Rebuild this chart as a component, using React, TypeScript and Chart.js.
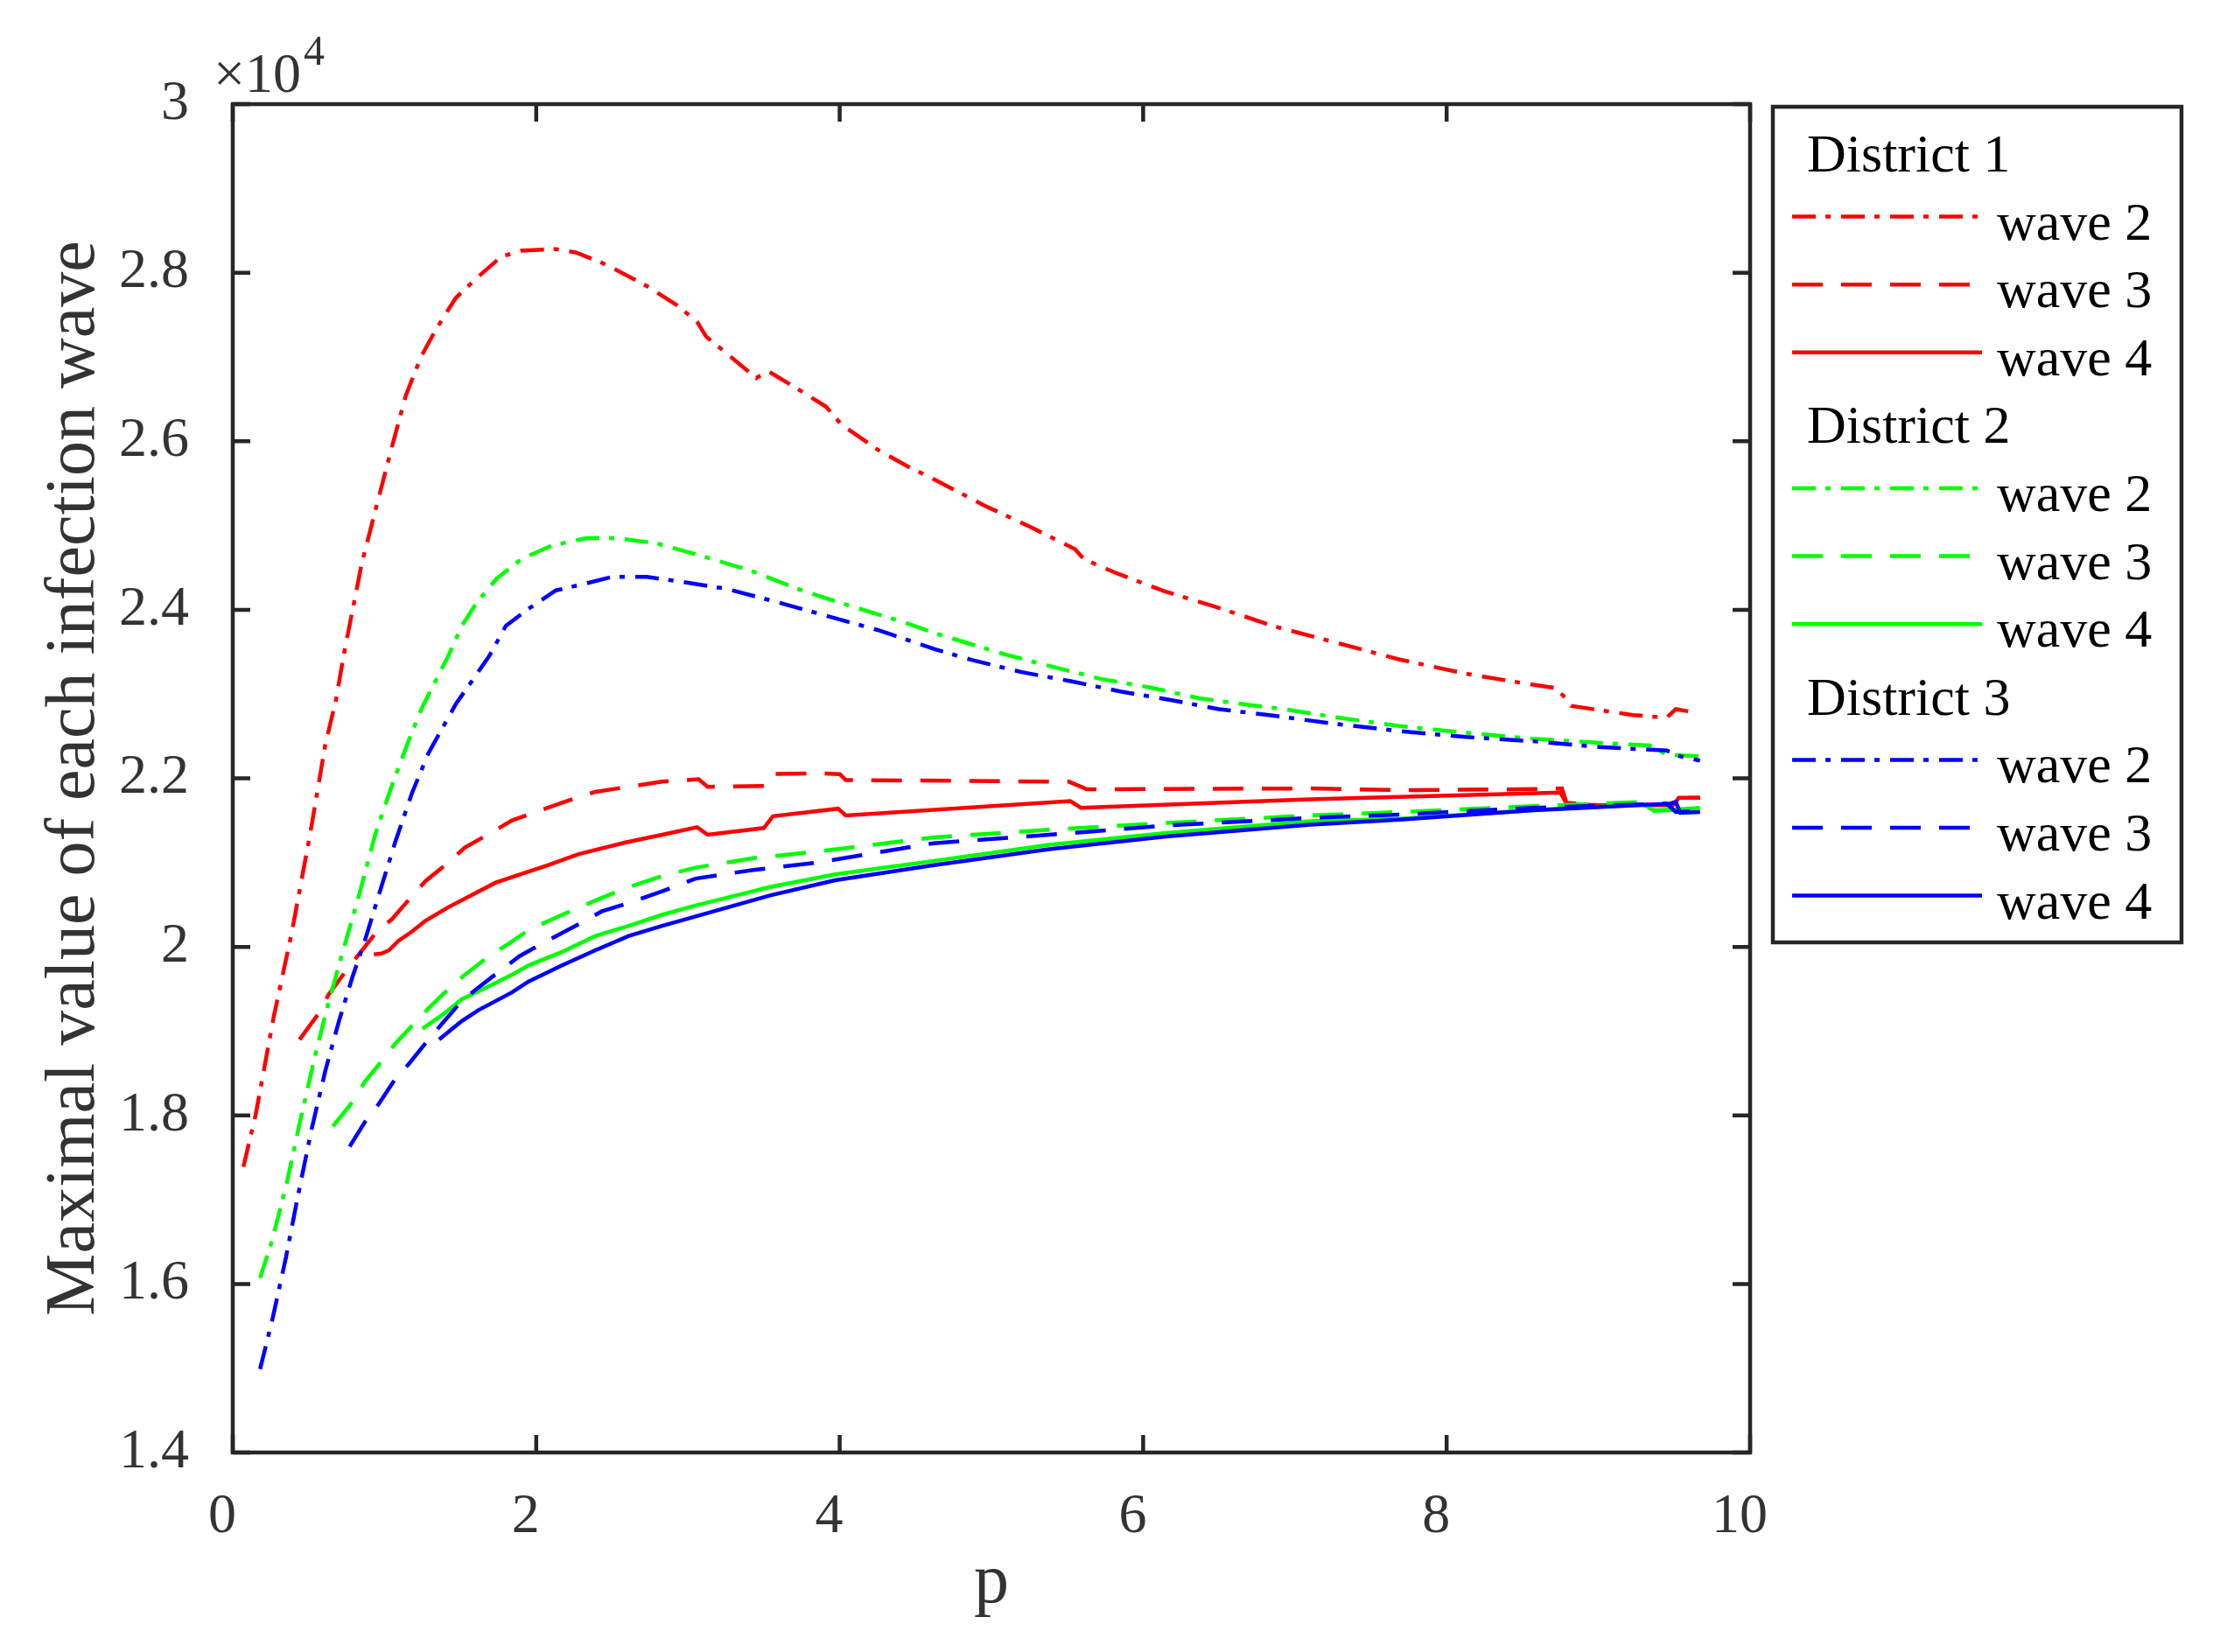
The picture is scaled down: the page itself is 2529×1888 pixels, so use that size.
import React, { useEffect, useRef } from 'react';
import { Chart, registerables } from 'chart.js';

Chart.register(...registerables);

const FONT = '"Liberation Serif", "Times New Roman", serif';

// x (p) and y (maximal value) per series
const d1w2P = [0.07, 0.15, 0.27, 0.39, 0.51, 0.61, 0.68, 0.73, 0.85, 0.95, 1.05, 1.14, 1.24, 1.34, 1.47, 1.61, 1.77, 1.90, 2.13, 2.26, 2.43, 2.53, 2.73, 2.93, 3.06, 3.12, 3.25, 3.45, 3.53, 3.75, 3.91, 4.01, 4.25, 4.44, 4.63, 4.95, 5.26, 5.55, 5.61, 5.83, 6.14, 6.47, 6.87, 7.25, 7.69, 8.13, 8.57, 8.72, 8.79, 8.82, 9.23, 9.45, 9.51, 9.61];
const d1w2V = [17390, 18000, 19170, 20180, 21340, 22400, 22930, 23450, 24550, 25250, 25940, 26540, 27000, 27330, 27700, 27940, 28190, 28260, 28280, 28240, 28120, 28030, 27840, 27610, 27420, 27240, 27050, 26750, 26830, 26590, 26410, 26200, 25900, 25710, 25540, 25240, 24980, 24720, 24600, 24430, 24220, 24040, 23800, 23620, 23410, 23240, 23110, 23070, 22940, 22860, 22750, 22720, 22820, 22790];

const d1w3P = [0.44, 0.57, 0.63, 0.74, 0.83, 0.95, 1.05, 1.18, 1.27, 1.42, 1.53, 1.69, 1.84, 2.00, 2.17, 2.39, 2.61, 2.83, 3.07, 3.13, 3.50, 3.55, 3.88, 4.00, 4.04, 5.51, 5.63, 7.10, 7.69, 8.49, 8.76, 8.79, 9.00, 9.50, 9.53, 9.67];
const d1w3V = [18900, 19220, 19430, 19700, 19910, 20180, 20330, 20600, 20780, 21000, 21180, 21340, 21500, 21600, 21710, 21840, 21900, 21960, 21990, 21900, 21910, 22050, 22060, 22050, 21980, 21960, 21870, 21880, 21860, 21870, 21880, 21710, 21680, 21680, 21770, 21770];

const d1w4P = [0.93, 0.98, 1.03, 1.09, 1.18, 1.27, 1.42, 1.56, 1.73, 1.91, 2.08, 2.28, 2.59, 2.83, 3.06, 3.13, 3.50, 3.56, 3.99, 4.04, 5.52, 5.59, 7.10, 8.75, 8.79, 9.00, 9.50, 9.53, 9.67];
const d1w4V = [19910, 19920, 19960, 20070, 20180, 20310, 20470, 20600, 20760, 20870, 20970, 21100, 21240, 21330, 21420, 21330, 21410, 21550, 21640, 21560, 21730, 21650, 21750, 21830, 21700, 21680, 21690, 21770, 21770];

const d2w2P = [0.18, 0.26, 0.36, 0.44, 0.54, 0.63, 0.72, 0.83, 0.94, 1.05, 1.16, 1.25, 1.42, 1.51, 1.61, 1.74, 1.90, 2.10, 2.33, 2.53, 2.79, 3.09, 3.42, 3.75, 4.08, 4.41, 4.63, 5.09, 5.39, 5.72, 6.04, 6.37, 6.70, 6.93, 7.25, 7.69, 8.13, 8.57, 9.01, 9.34, 9.45, 9.67];
const d2w2V = [16070, 16520, 17230, 17900, 18690, 19330, 19910, 20600, 21340, 21920, 22450, 22850, 23450, 23810, 24090, 24370, 24600, 24760, 24850, 24850, 24790, 24640, 24460, 24230, 24040, 23860, 23720, 23470, 23330, 23180, 23080, 22950, 22870, 22820, 22730, 22620, 22540, 22470, 22420, 22390, 22280, 22260];

const d2w3P = [0.66, 0.79, 0.87, 0.98, 1.07, 1.18, 1.29, 1.38, 1.53, 1.69, 1.82, 1.95, 2.17, 2.39, 2.61, 2.83, 3.05, 3.42, 3.85, 4.62, 5.38, 6.15, 7.10, 7.69, 8.57, 9.30, 9.37, 9.67];
const d2w3V = [17870, 18160, 18400, 18640, 18850, 19060, 19270, 19430, 19670, 19890, 20040, 20200, 20380, 20550, 20710, 20840, 20940, 21050, 21130, 21300, 21390, 21470, 21560, 21600, 21670, 21720, 21620, 21640];

const d2w4P = [1.25, 1.38, 1.51, 1.64, 1.84, 1.95, 2.17, 2.39, 2.61, 2.83, 3.05, 3.54, 3.97, 4.62, 5.38, 6.15, 7.10, 7.69, 8.57, 9.30, 9.37, 9.67];
const d2w4V = [19030, 19190, 19380, 19490, 19670, 19780, 19940, 20130, 20250, 20380, 20490, 20710, 20860, 21020, 21210, 21350, 21490, 21520, 21620, 21690, 21610, 21650];

const d3w2P = [0.18, 0.26, 0.35, 0.43, 0.52, 0.61, 0.70, 0.79, 0.87, 0.96, 1.07, 1.18, 1.29, 1.47, 1.69, 1.80, 1.94, 2.13, 2.30, 2.50, 2.73, 2.93, 3.25, 3.59, 3.91, 4.25, 4.63, 4.88, 5.20, 5.53, 5.85, 6.18, 6.50, 6.83, 7.25, 7.69, 8.13, 8.57, 9.01, 9.45, 9.54, 9.67];
const d3w2V = [14990, 15570, 16310, 17050, 17840, 18530, 19120, 19650, 20070, 20600, 21240, 21820, 22300, 22880, 23450, 23810, 24000, 24230, 24300, 24390, 24390, 24340, 24250, 24090, 23930, 23760, 23530, 23400, 23260, 23150, 23030, 22930, 22820, 22750, 22650, 22560, 22490, 22440, 22370, 22330, 22260, 22210];

const d3w3P = [0.77, 0.87, 0.96, 1.07, 1.16, 1.29, 1.38, 1.51, 1.60, 1.75, 1.89, 2.04, 2.26, 2.43, 2.61, 2.83, 3.05, 3.42, 3.85, 4.62, 5.38, 6.15, 7.10, 7.69, 8.57, 9.45, 9.51, 9.67];
const d3w3V = [17630, 17920, 18130, 18430, 18610, 18900, 19090, 19360, 19490, 19700, 19890, 20040, 20250, 20420, 20520, 20660, 20810, 20910, 21000, 21230, 21330, 21440, 21530, 21570, 21650, 21700, 21600, 21610];

const d3w4P = [1.36, 1.51, 1.62, 1.84, 1.95, 2.17, 2.39, 2.61, 2.83, 3.05, 3.54, 3.97, 4.62, 5.38, 6.15, 7.10, 7.69, 8.57, 9.47, 9.51, 9.54, 9.67];
const d3w4V = [18900, 19120, 19250, 19460, 19590, 19780, 19960, 20130, 20250, 20360, 20610, 20790, 20970, 21160, 21310, 21450, 21510, 21620, 21700, 21720, 21590, 21600];

const districtLabels = ['District 1', 'District 2', 'District 3'];
const waveLabels = ['wave 2', 'wave 3', 'wave 4'];
const districtColors = ['#ff0000', '#00ff00', '#0000ff'];
const xTicks = [0, 2, 4, 6, 8, 10];
const yTicks = [14000, 16000, 18000, 20000, 22000, 24000, 26000, 28000, 30000];

const DASH_DOT = [27, 11, 6, 12];
const DASHED = [35, 21];
const waveDashes = [DASH_DOT, DASHED, []];

const seriesP = [d1w2P, d1w3P, d1w4P, d2w2P, d2w3P, d2w4P, d3w2P, d3w3P, d3w4P];
const seriesV = [d1w2V, d1w3V, d1w4V, d2w2V, d2w3V, d2w4V, d3w2V, d3w3V, d3w4V];

const AXIS = '#262626';
const TEXT = '#333333';

const framePlugin = {
  id: 'matlabFrame',
  afterDraw(chart: any) {
    const { ctx, chartArea } = chart;
    const { left, right, top, bottom } = chartArea;
    const xs = chart.scales.x;
    const ys = chart.scales.y;
    ctx.save();
    ctx.strokeStyle = AXIS;
    ctx.lineWidth = 4.5;
    ctx.setLineDash([]);
    ctx.strokeRect(left, top, right - left, bottom - top);
    const tl = 20;
    ctx.beginPath();
    xTicks.forEach((v) => {
      const px = xs.getPixelForValue(v);
      ctx.moveTo(px, bottom);
      ctx.lineTo(px, bottom - tl);
      ctx.moveTo(px, top);
      ctx.lineTo(px, top + tl);
    });
    yTicks.forEach((v) => {
      const py = ys.getPixelForValue(v);
      ctx.moveTo(left, py);
      ctx.lineTo(left + tl, py);
      ctx.moveTo(right, py);
      ctx.lineTo(right - tl, py);
    });
    ctx.stroke();

    // exponent label
    ctx.fillStyle = TEXT;
    ctx.textBaseline = 'alphabetic';
    ctx.textAlign = 'left';
    ctx.font = `64px ${FONT}`;
    ctx.fillText('\u00d710', 244, 105);
    const w = ctx.measureText('\u00d710').width;
    ctx.font = `48px ${FONT}`;
    ctx.fillText('4', 244 + w + 3, 74);

    // legend
    const bx = 2026, by = 122, bw = 467, bh = 955;
    ctx.fillStyle = '#ffffff';
    ctx.fillRect(bx, by, bw, bh);
    ctx.strokeStyle = AXIS;
    ctx.lineWidth = 4.5;
    ctx.strokeRect(bx, by, bw, bh);
    ctx.font = `62px ${FONT}`;
    ctx.fillStyle = '#000000';
    const step = 77.6;
    let row = 0;
    for (let d = 0; d < 3; d++) {
      const base = 196 + row * step;
      ctx.fillStyle = '#000000';
      ctx.fillText(districtLabels[d], 2065, base);
      row++;
      for (let w2 = 0; w2 < 3; w2++) {
        const b = 196 + row * step;
        const ds = chart.data.datasets[d * 3 + w2];
        ctx.strokeStyle = ds.borderColor;
        ctx.lineWidth = 4.5;
        ctx.setLineDash(ds.borderDash || []);
        ctx.beginPath();
        ctx.moveTo(2048, b - 26);
        ctx.lineTo(2265, b - 26);
        ctx.stroke();
        ctx.setLineDash([]);
        ctx.fillStyle = '#000000';
        ctx.fillText(waveLabels[w2], 2282, b);
        row++;
      }
    }
    ctx.restore();
  },
};

export default function App() {
  const ref = useRef<HTMLCanvasElement | null>(null);

  useEffect(() => {
    if (!ref.current) return;
    const datasets = seriesP.map((ps, i) => {
      const d = Math.floor(i / 3);
      const w = i % 3;
      return {
        label: `${districtLabels[d]} ${waveLabels[w]}`,
        data: ps.map((p, k) => ({ x: p, y: seriesV[i][k] })),
        borderColor: districtColors[d],
        backgroundColor: districtColors[d],
        borderWidth: 4.5,
        borderDash: waveDashes[w],
        pointRadius: 0,
        tension: 0,
        fill: false,
        order: 8 - i,
      };
    });
    const chart = new Chart(ref.current, {
      type: 'line',
      data: { datasets },
      options: {
        responsive: false,
        devicePixelRatio: 1,
        animation: false,
        layout: { padding: { left: 0, top: 119, right: 529, bottom: 0 } },
        plugins: { legend: { display: false }, tooltip: { enabled: false } },
        scales: {
          x: {
            type: 'linear',
            min: 0,
            max: 10,
            grid: { display: false, drawTicks: false },
            border: { display: false },
            ticks: {
              stepSize: 2,
              autoSkip: false,
              color: TEXT,
              padding: 36,
              labelOffset: -12,
              font: { family: FONT, size: 64 },
            },
            title: {
              display: true,
              text: 'p',
              color: TEXT,
              font: { family: FONT, size: 80 },
              padding: { top: 0, bottom: 30 },
            },
            afterFit: (s: any) => {
              s.height = 228;
            },
          },
          y: {
            type: 'linear',
            min: 14000,
            max: 30000,
            grid: { display: false, drawTicks: false },
            border: { display: false },
            ticks: {
              stepSize: 2000,
              autoSkip: false,
              color: TEXT,
              padding: 50,
              font: { family: FONT, size: 64 },
              callback: (v: any) => String(Math.round(Number(v) / 1000) / 10),
            },
            title: {
              display: true,
              text: 'Maximal value of each infection wave',
              color: TEXT,
              font: { family: FONT, size: 80 },
              padding: { top: 38, bottom: 0 },
            },
            afterFit: (s: any) => {
              s.width = 266;
            },
          },
        },
      },
      plugins: [framePlugin],
    } as any);
    return () => chart.destroy();
  }, []);

  return (
    <div style={{ position: 'absolute', left: 0, top: 0, width: 2529, height: 1888, background: '#ffffff' }}>
      <canvas ref={ref} width={2529} height={1888} style={{ display: 'block', width: 2529, height: 1888 }} />
    </div>
  );
}
